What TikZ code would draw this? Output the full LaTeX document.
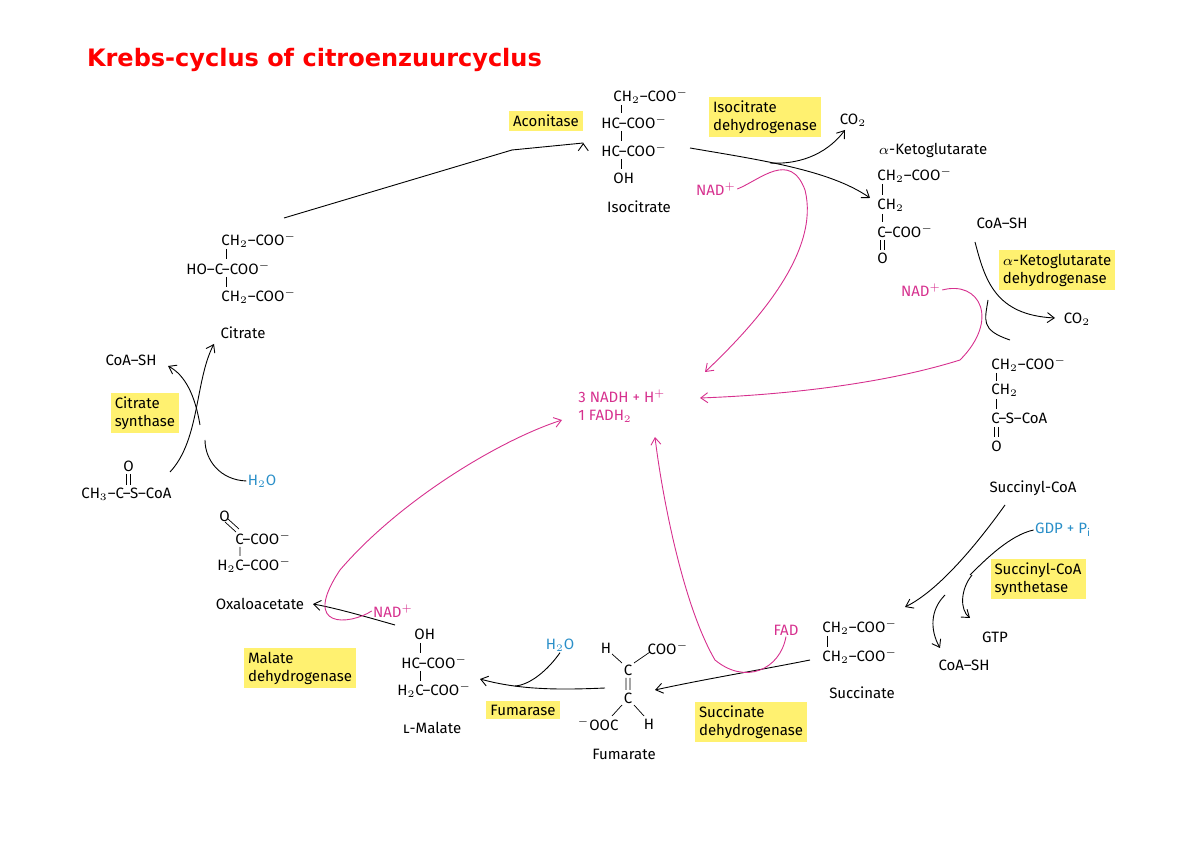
\documentclass[tikz,border=0pt]{standalone}
\usepackage{fontspec}
\setmainfont{Fira Sans}
\newfontfamily\titlefont{DejaVu Sans}
\usetikzlibrary{arrows.meta}
\definecolor{mag}{HTML}{D6308E}
\definecolor{blu}{HTML}{2A8FC8}
\definecolor{ybox}{HTML}{FFF170}
\tikzset{
 t/.style={font=\fontsize{7.5}{9}\selectfont,inner sep=0.5pt,anchor=west},
 c/.style={font=\fontsize{7.5}{9}\selectfont,inner sep=0.5pt},
 enz/.style={font=\fontsize{7.5}{9}\selectfont,fill=ybox,align=left,inner sep=2pt},
 ar/.style={-{Straight Barb[length=3.5pt,width=5pt]},line width=0.45pt},
 ln/.style={line width=0.45pt},
 bd/.style={line width=0.35pt},
}
\begin{document}
\begin{tikzpicture}[x=0.5pt,y=-0.5pt]
\useasboundingbox (0,0) rectangle (1200,849);
\node[anchor=west,text=red,font=\titlefont\bfseries\fontsize{12}{14}\selectfont] (title) at (80,60) {Krebs-cyclus of citroenzuurcyclus};
% Isocitrate
\node[t] (i1) at (612,96) {CH$_2$–COO$^-$};
\node[t] (i2) at (600,122) {HC–COO$^-$};
\node[t] (i3) at (600,150) {HC–COO$^-$};
\node[t] (i4) at (612,178) {OH};
\draw[bd] (621,105)--(621,113) (621,131)--(621,141) (621,159)--(621,169);
\node[c] (iso) at (639,207) {Isocitrate};
\node[enz] (acon) at (546,121) {Aconitase};
\node[enz] (idh) at (765,117) {Isocitrate\\dehydrogenase};
\node[c] (co2a) at (853,120) {CO$_2$};
\node[c,text=mag] (nad1) at (716,189) {NAD$^+$};
% alpha-KG
\node[c] (akgl) at (933,150) {$\alpha$-Ketoglutarate};
\node[t] (k1) at (876,175) {CH$_2$–COO$^-$};
\node[t] (k2) at (876,205) {CH$_2$};
\node[t] (k3) at (876,231) {C–COO$^-$};
\node[t] (k4) at (876,258) {O};
\draw[bd] (882,184)--(882,195) (882,214)--(882,222);
\draw[bd] (880,240)--(880,250) (884,240)--(884,250);
\node[c] (coa1) at (1002,223) {CoA–SH};
\node[enz] (akgdh) at (1057,270) {$\alpha$-Ketoglutarate\\dehydrogenase};
\node[c,text=mag] (nad2) at (921,290) {NAD$^+$};
\node[c] (co2b) at (1077,319) {CO$_2$};
% succinyl-CoA
\node[t] (s1) at (990,364) {CH$_2$–COO$^-$};
\node[t] (s2) at (990,390) {CH$_2$};
\node[t] (s3) at (990,418) {C–S–CoA};
\node[t] (s4) at (990,446) {O};
\draw[bd] (996,373)--(996,381) (996,399)--(996,409);
\draw[bd] (994,427)--(994,437) (998,427)--(998,437);
\node[c] (scoal) at (1033,488) {Succinyl-CoA};
\node[c,text=blu] (gdp) at (1063,530) {GDP + P$_\mathrm{i}$};
\node[enz] (scs) at (1038,579) {Succinyl-CoA\\synthetase};
\node[c] (gtp) at (995,637) {GTP};
\node[c] (coa2) at (964,665) {CoA–SH};
% succinate
\node[t] (u1) at (821,627) {CH$_2$–COO$^-$};
\node[t] (u2) at (821,656) {CH$_2$–COO$^-$};
\draw[bd] (827,636)--(827,647);
\node[c] (succ) at (862,693) {Succinate};
\node[c,text=mag] (fad) at (786,630) {FAD};
\node[enz] (sdh) at (751,722) {Succinate\\dehydrogenase};
% fumarate
\node[c] (f1) at (606,648) {H};
\node[c] (f2) at (668,648) {COO$^-$};
\node[c] (f3) at (628,670) {C};
\node[c] (f4) at (628,698) {C};
\node[c] (f5) at (598,724) {$^-$OOC};
\node[c] (f6) at (649,724) {H};
\draw[bd] (612,654)--(622,663) (634,663)--(650,652) (626,678)--(626,690) (630,678)--(630,690) (622,705)--(612,716) (634,705)--(644,716);
\node[c] (fum) at (624,754) {Fumarate};
\node[c,text=blu] (h2o1) at (560,645) {H$_2$O};
\node[enz] (fumase) at (523,710) {Fumarase};
% malate
\node[t] (m1) at (413,634) {OH};
\node[t] (m2) at (400,662) {HC–COO$^-$};
\node[t] (m3) at (396,690) {H$_2$C–COO$^-$};
\draw[bd] (420,643)--(420,653) (420,671)--(420,681);
\node[c] (mal) at (432,728) {\textsc{l}-Malate};
\node[enz] (mdh) at (300,668) {Malate\\dehydrogenase};
\node[c,text=mag] (nad3) at (393,611) {NAD$^+$};
% oxaloacetate
\node[t] (o1) at (218,516) {O};
\node[t] (o2) at (234,538) {C–COO$^-$};
\node[t] (o3) at (216,565) {H$_2$C–COO$^-$};
\draw[bd] (225,522)--(236,532) (228,519)--(239,529) (240,547)--(240,556);
\node[c] (oxa) at (260,604) {Oxaloacetate};
% acetyl-CoA
\node[t] (a1) at (122,466) {O};
\node[t] (a2) at (80,494) {CH$_3$–C–S–CoA};
\draw[bd] (126,474)--(126,485) (130,474)--(130,485);
\node[c,text=blu] (h2o2) at (262,481) {H$_2$O};
\node[enz] (cs) at (145,413) {Citrate\\synthase};
\node[c] (coa3) at (131,360) {CoA–SH};
% citrate
\node[t] (c1) at (220,240) {CH$_2$–COO$^-$};
\node[t] (c2) at (185,268) {HO–C–COO$^-$};
\node[t] (c3) at (220,296) {CH$_2$–COO$^-$};
\draw[bd] (226,249)--(226,259) (226,277)--(226,287);
\node[c] (cit) at (243,333) {Citrate};
% center
\node[t,text=mag,align=left] (ctr) at (577,406) {3 NADH + H$^+$\\1 FADH$_2$};
% ---- arrows
\coordinate (ac) at (512,150);
\draw[ln] (284,218) -- (ac);
\draw[ar] (ac) -- (acon.east |- 0,143) ++(0,0);
% isocitrate -> aKG
\coordinate (r1) at (790,165);
\draw[ar] (690,148) .. controls (760,160) and (830,170) .. (870,198);
\draw[ar] (770,163) .. controls (805,165) and (830,150) .. (845,130);
\draw[ar,mag] (nad1.east) .. controls (760,180) and (790,150) .. (805,190) .. controls (820,250) and (760,320) .. (705,372);
% aKG -> succinyl
\draw[ar] (975,242) .. controls (985,280) and (995,315) .. (1055,318);
\draw[ln] (988,300) .. controls (985,320) and (980,330) .. (1010,340);
\draw[ar,mag] (nad2.east) .. controls (980,280) and (1000,320) .. (960,360) .. controls (880,385) and (780,395) .. (700,398);
% succinyl -> succinate
\draw[ar] (1005,505) .. controls (980,540) and (940,590) .. (905,607);
\draw[ln] (gdp.west) .. controls (1010,535) and (985,560) .. (970,575);
\draw[ar] (972,575) .. controls (960,590) and (960,610) .. (970,618);
\draw[ar] (945,595) .. controls (930,610) and (930,630) .. (940,648);
% succinate -> fumarate
\draw[ar] (810,660) .. controls (760,670) and (700,680) .. (655,690);
\draw[ar,mag] (fad.south) .. controls (780,670) and (745,685) .. (715,660) .. controls (680,600) and (660,480) .. (655,437);
% fumarate -> malate
\draw[ar] (605,688) .. controls (560,690) and (520,690) .. (480,679);
\draw[ln] (h2o1.south) .. controls (548,670) and (530,685) .. (515,686);
% malate -> oxaloacetate
\draw[ar] (395,625) .. controls (360,615) and (335,608) .. (313,604);
\draw[ar,mag] (nad3.west) .. controls (350,625) and (300,630) .. (340,570) .. controls (400,500) and (500,440) .. (562,420);
% oxaloacetate -> citrate
\draw[ar] (170,472) .. controls (200,440) and (195,380) .. (214,344);
\draw[ln] (h2o2.west) .. controls (220,480) and (205,460) .. (205,440);
\draw[ar] (200,425) .. controls (195,395) and (185,375) .. (168,366);
\end{tikzpicture}
\end{document}
